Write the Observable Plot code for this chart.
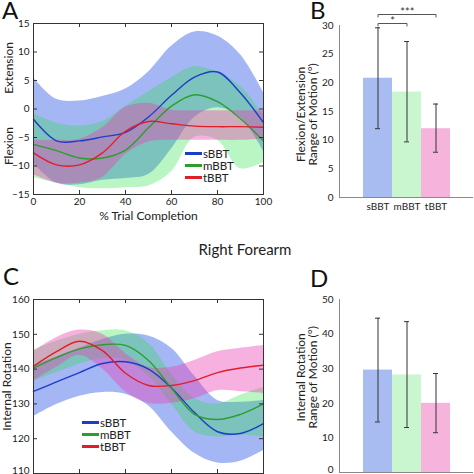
<!DOCTYPE html>
<html>
<head>
<meta charset="utf-8">
<script src="https://cdn.jsdelivr.net/npm/d3@7"></script>
<script src="https://cdn.jsdelivr.net/npm/@observablehq/plot@0.6"></script>
<style>
  html, body { margin: 0; padding: 0; background: #fff; overflow: hidden; }
  #fig { position: relative; width: 474px; height: 474px; overflow: hidden; font-family: Lato, "Open Sans", sans-serif; color: #222; }
  .panel { position: absolute; }
  .panel svg { display: block; overflow: visible; }
  .letter { position: absolute; font-size: 24px; line-height: 18px; color: #111; }
  #title { position: absolute; left: 0; width: 490px; text-align: center; font-size: 15px; line-height: 15px; color: #222; }
  .legend { position: absolute; font-size: 11.5px; color: #222; }
  .legend div { display: flex; align-items: center; height: 12px; }
  .legend span.swatch { display: inline-block; width: 17px; height: 3px; margin-right: 1px; }
</style>
</head>
<body>
<div id="fig">
  <div class="panel" id="panelA" style="left:0;top:0"></div>
  <div class="panel" id="panelB" style="left:280px;top:0"></div>
  <div class="panel" id="panelC" style="left:0;top:240px"></div>
  <div class="panel" id="panelD" style="left:280px;top:240px"></div>
  <div class="letter" style="left:2px;top:1px">A</div>
  <div class="letter" style="left:310px;top:1px">B</div>
  <div class="letter" style="left:3px;top:267px">C</div>
  <div class="letter" style="left:310px;top:269px">D</div>
  <div id="title" style="top:242px">Right Forearm</div>
  <div class="legend" id="legendA" style="left:185px;top:147px"></div>
  <div class="legend" id="legendC" style="left:82px;top:416px"></div>
</div>
<script>
// ---- data -------------------------------------------------------------
const groups = ["sBBT", "mBBT", "tBBT"];
const pct = [0, 10, 20, 30, 40, 50, 60, 70, 80, 90, 100];   // % trial completion
const pctTicks = [0, 20, 40, 60, 80, 100];

// Flexion (-) / extension (+) angle, degrees: mean and band edges
const feMeanS = [-1.8, -5.6, -5.6, -4.9, -4.1, -1.4, 2.4, 5.6, 6.5, 2.8, -2.4];
const feLoS   = [-9.5, -13.0, -13.3, -12.5, -12.2, -11.5, -7.0, -1.5, 0.2, -1.5, -7.4];
const feHiS   = [5.5, 1.7, 1.4, 2.2, 3.5, 6.5, 11.0, 13.5, 12.8, 9.5, 2.9];
const feMeanM = [-6.2, -7.3, -8.6, -8.6, -7.2, -3.3, 0.5, 2.5, 1.3, -1.7, -5.6];
const feLoM   = [-12.0, -13.0, -13.8, -14.0, -13.8, -13.5, -11.0, -5.0, -5.5, -10.5, -9.4];
const feHiM   = [-0.8, -2.5, -3.0, -2.2, 0.5, 3.0, 5.5, 7.4, 6.5, 4.0, -1.0];
const feMeanT = [-7.7, -9.8, -9.8, -7.7, -3.9, -2.2, -2.6, -3.0, -3.1, -3.1, -3.2];
const feLoT   = [-11.5, -13.0, -13.0, -12.0, -8.0, -5.8, -5.5, -5.5, -5.5, -5.5, -5.3];
const feHiT   = [-5.5, -5.5, -5.3, -3.3, 0.3, 1.0, -0.2, -0.3, -0.3, -0.3, -0.3];
const feTicks = [-15, -10, -5, 0, 5, 10, 15];

// Internal rotation angle, degrees: mean and band edges
const irMeanS = [133.6, 136.3, 139.0, 141.6, 142.1, 140.0, 134.6, 127.5, 122.0, 121.5, 124.3];
const irLoS   = [126.3, 129.8, 132.2, 133.3, 132.8, 129.5, 122.0, 115.8, 113.0, 113.5, 116.6];
const irHiS   = [141.0, 143.5, 146.0, 148.5, 150.0, 149.5, 146.0, 138.0, 131.0, 130.5, 131.0];
const irMeanM = [140.3, 143.3, 145.8, 147.0, 146.8, 142.5, 134.5, 127.0, 125.5, 127.0, 130.0];
const irLoM   = [136.5, 139.0, 141.5, 143.0, 142.5, 138.0, 130.0, 122.0, 120.5, 121.0, 120.5];
const irHiM   = [145.5, 148.0, 150.0, 151.0, 151.0, 147.5, 138.5, 131.5, 130.0, 132.5, 134.8];
const irMeanT = [140.8, 145.0, 148.0, 145.3, 138.8, 135.3, 135.3, 136.7, 139.0, 140.3, 141.1];
const irLoT   = [136.5, 140.5, 144.0, 140.0, 133.5, 130.2, 130.2, 131.5, 133.8, 133.5, 133.0];
const irHiT   = [145.0, 149.0, 151.2, 150.0, 144.5, 140.5, 140.5, 142.5, 145.0, 146.0, 146.8];
const irTicks = [110, 120, 130, 140, 150, 160];

// Range of motion (degrees): mean, lower and upper error bar
const romFE   = [20.8, 18.4, 12.0];
const romFELo = [12.0, 9.7, 7.9];
const romFEHi = [29.6, 27.2, 16.3];
const romFETicks = [0, 5, 10, 15, 20, 25, 30];
const sigFE = [["sBBT", "mBBT", "*"], ["sBBT", "tBBT", "***"]];

const romIR   = [29.6, 28.2, 20.0];
const romIRLo = [14.6, 13.0, 11.5];
const romIRHi = [44.6, 43.6, 28.6];
const romIRTicks = [0, 10, 20, 30, 40, 50];

// ---- styling ---------------------------------------------------------
const lineColors = ["#1c3ec6", "#2c9e2c", "#e01e2a"];
const bandColors = ["rgb(40,80,230)", "rgb(40,225,70)", "rgb(235,60,180)"];
const bandOpacity = [0.42, 0.32, 0.4];
const barColors = ["#a9bcf2", "#c9f6ce", "#f6b4dd"];
const font = "Lato, 'Open Sans', sans-serif";

function traceRows(means, los, his) {
  return groups.flatMap((g, k) => pct.map((t, i) => ({group: g, t, mean: means[k][i], lo: los[k][i], hi: his[k][i]})));
}
function barRows(vals, los, his) {
  return groups.map((g, k) => ({group: g, value: vals[k], lo: los[k], hi: his[k]}));
}

// y tick labels; when the panel is cropped at the figure's bottom edge,
// the lowest label sits on its tick's line instead of centred on it
function yTickLabels(ticks, padding, cropped) {
  if (!cropped) return [Plot.axisY({ticks, tickSize: 0, tickPadding: padding, label: null})];
  const [low, ...rest] = ticks;
  return [
    Plot.axisY({ticks: rest, tickSize: 0, tickPadding: padding, label: null}),
    Plot.text([low], {text: d => d, y: d => d, frameAnchor: "left", dx: -padding,
      textAnchor: "end", lineAnchor: "bottom", dy: 0})
  ];
}

// Time-normalised trace panel: shaded band + mean line per group, boxed axes
function tracePanel({rows, yDomain, yTicks, height, marginTop, marginBottom, yLabels, xLabels = true}) {
  const width = 275, marginLeft = 33, marginRight = 12;
  const innerH = height - marginTop - marginBottom;
  const innerW = width - marginLeft - marginRight;
  const marks = [];
  groups.forEach((g, k) => marks.push(Plot.areaY(rows.filter(d => d.group === g),
    {x: "t", y1: "lo", y2: "hi", fill: bandColors[k], fillOpacity: bandOpacity[k], curve: "catmull-rom"})));
  groups.forEach((g, k) => marks.push(Plot.lineY(rows.filter(d => d.group === g),
    {x: "t", y: "mean", stroke: lineColors[k], strokeWidth: 1.4, curve: "catmull-rom"})));
  const tick = 4;
  marks.push(
    Plot.frame({stroke: "#333"}),
    Plot.tickX(pctTicks, {x: d => d, insetTop: innerH - tick, stroke: "#333"}),
    Plot.tickX(pctTicks, {x: d => d, insetBottom: innerH - tick, stroke: "#333"}),
    Plot.tickY(yTicks, {y: d => d, insetRight: innerW - tick, stroke: "#333"}),
    Plot.tickY(yTicks, {y: d => d, insetLeft: innerW - tick, stroke: "#333"}),
    ...yTickLabels(yTicks, 4, !xLabels)
  );
  if (xLabels) marks.push(
    Plot.axisX({ticks: pctTicks, tickSize: 0, tickPadding: 3, label: null}),
    Plot.text(["% Trial Completion"], {text: d => d, frameAnchor: "bottom", dy: 25, fontSize: 12})
  );
  yLabels.forEach(({text, y, dx}) => marks.push(Plot.text([text], {
    text: d => d, y: () => y, frameAnchor: "left", dx,
    rotate: -90, textAnchor: "middle", lineAnchor: "middle", fontSize: 12
  })));
  return Plot.plot({
    width, height, marginLeft, marginRight, marginTop, marginBottom,
    x: {domain: [0, 100], axis: xLabels ? undefined : null},
    y: {domain: yDomain},
    style: {fontFamily: font, fontSize: "10px", color: "#222", background: "transparent"},
    marks
  });
}

// Range-of-motion bar panel with error bars and optional significance brackets
function barPanel({rows, yMax, yTicks, height, marginTop, marginBottom, label, labelY, sig = [], xLabels = true}) {
  const width = 194, marginLeft = 59, marginRight = 1;
  const paddingOuter = 0.785;
  const step = (width - marginLeft - marginRight) / (groups.length + 2 * paddingOuter);
  const unit = (height - marginTop - marginBottom) / yMax;   // px per degree
  const marks = [
    Plot.barY(rows, {x: "group", y: "value", fill: "group"}),
    Plot.ruleX(rows, {x: "group", y1: "lo", y2: "hi", stroke: "#333", strokeWidth: 1}),
    Plot.tickY(rows, {x: "group", y: "hi", insetLeft: 12, insetRight: 12, stroke: "#333"}),
    Plot.tickY(rows, {x: "group", y: "lo", insetLeft: 12, insetRight: 12, stroke: "#333"}),
    Plot.ruleY([0], {stroke: "#8a8a8a"}),
    Plot.frame({anchor: "left", stroke: "#8a8a8a"}),
    ...yTickLabels(yTicks, 6, !xLabels),
    Plot.text([label], {text: d => d, y: () => labelY, frameAnchor: "left", dx: -32,
      rotate: -90, textAnchor: "middle", lineAnchor: "middle", lineHeight: 1.0, fontSize: 12})
  ];
  if (xLabels) marks.push(Plot.axisX({tickSize: 0, tickPadding: 5, label: null}));
  sig.forEach(([a, b, stars], i) => {
    const level = yMax + (2 + 9 * i) / unit;
    const drop = 2.5 / unit;
    marks.push(Plot.line([[a, level - drop], [a, level], [b, level], [b, level - drop]],
      {x: d => d[0], y: d => d[1], stroke: "#555", strokeWidth: 1}));
    const span = groups.indexOf(b) - groups.indexOf(a);
    marks.push(Plot.text([stars], {text: d => d, x: () => a, y: () => level, dx: span * step / 2, dy: -2,
      lineAnchor: "middle", fontSize: 11, fill: "#333"}));
  });
  return Plot.plot({
    width, height, marginLeft, marginRight, marginTop, marginBottom,
    x: {domain: groups, paddingInner: 0, paddingOuter, axis: xLabels ? undefined : null},
    y: {domain: [0, yMax]},
    color: {domain: groups, range: barColors},
    style: {fontFamily: font, fontSize: "10px", color: "#222", background: "transparent"},
    marks
  });
}

document.getElementById("panelA").append(tracePanel({
  rows: traceRows([feMeanS, feMeanM, feMeanT], [feLoS, feLoM, feLoT], [feHiS, feHiM, feHiT]),
  yDomain: [-15, 15], yTicks: feTicks, height: 230, marginTop: 23, marginBottom: 36,
  yLabels: [{text: "Extension", y: 7.2, dx: -24}, {text: "Flexion", y: -6.5, dx: -24}]
}));

document.getElementById("panelB").append(barPanel({
  rows: barRows(romFE, romFELo, romFEHi), yMax: 30, yTicks: romFETicks,
  height: 230, marginTop: 25, marginBottom: 33,
  label: "Flexion/Extension\nRange of Motion (°)", labelY: 14.5, sig: sigFE
}));

// lower row runs past the bottom edge of the figure; its x labels fall outside
document.getElementById("panelC").append(tracePanel({
  rows: traceRows([irMeanS, irMeanM, irMeanT], [irLoS, irLoM, irLoT], [irHiS, irHiM, irHiT]),
  yDomain: [110, 160], yTicks: irTicks, height: 270, marginTop: 59, marginBottom: 37,
  yLabels: [{text: "Internal Rotation", y: 135, dx: -26}], xLabels: false
}));

document.getElementById("panelD").append(barPanel({
  rows: barRows(romIR, romIRLo, romIRHi), yMax: 50, yTicks: romIRTicks,
  height: 270, marginTop: 59, marginBottom: 38,
  label: "Internal Rotation\nRange of Motion (°)", labelY: 27.5, xLabels: false
}));

// Legends drawn as HTML keys inside the trace panels
for (const id of ["legendA", "legendC"]) {
  const box = document.getElementById(id);
  groups.forEach((g, k) => {
    const row = document.createElement("div");
    const sw = document.createElement("span");
    sw.className = "swatch";
    sw.style.background = lineColors[k];
    row.append(sw, document.createTextNode(g));
    box.append(row);
  });
}
</script>
</body>
</html>
